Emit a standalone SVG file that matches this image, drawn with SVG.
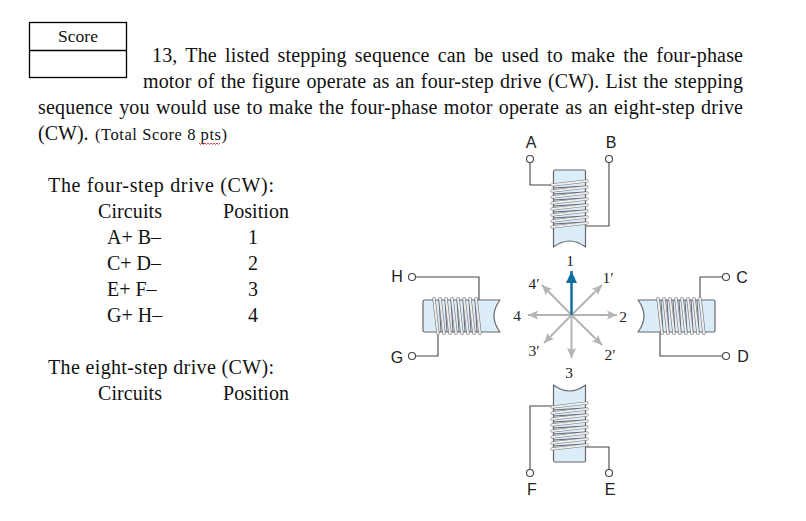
<svg xmlns="http://www.w3.org/2000/svg" xmlns:xlink="http://www.w3.org/1999/xlink" width="806" height="521" viewBox="0 0 806 521">
<style>
text{font-family:"Liberation Serif","Times New Roman",serif;fill:#111}
.t{font-size:20px}
.s{font-family:"Liberation Sans",Arial,sans-serif;font-size:16px;fill:#222}
.d{font-size:15.500px;fill:#222}
.box{fill:none;stroke:#000;stroke-width:1.300}
.wire{fill:none;stroke:#444;stroke-width:1.100}
.term{fill:#fff;stroke:#444;stroke-width:1.100}
.body{fill:#dcedfa;stroke:#666;stroke-width:1.200;stroke-linejoin:round}
.wo{fill:none;stroke:#777;stroke-width:3.200;stroke-linecap:round}
.wi{fill:none;stroke:#eee;stroke-width:2;stroke-linecap:round}
.back{fill:none;stroke:#667;stroke-width:1}
.ar{stroke:#b4b4b4;stroke-width:2;fill:none;marker-end:url(#mg)}
</style>
<defs>
<marker id="mg" markerUnits="userSpaceOnUse" markerWidth="11" markerHeight="9" refX="10" refY="4.500" orient="auto"><path d="M0 0L10 4.500L0 9L2 4.500Z" fill="#b4b4b4"/></marker>
<marker id="mb" markerUnits="userSpaceOnUse" markerWidth="13" markerHeight="11" refX="12" refY="5.500" orient="auto"><path d="M0 0L12 5.500L0 11Z" fill="#0f6e9f"/></marker>
<path id="bd" class="body" d="M-16 1.500Q-16 0-14.500 0H14.500Q16 0 16 1.500V77Q8 71 0 71Q-8 71-16 77Z"/>
<g id="wd">
<path class="back" d="M-16 18L16 16M-16 24L16 22M-16 30L16 28M-16 36L16 34M-16 42L16 40M-16 48L16 46M-16 54L16 52"/>
<g class="wo"><path d="M-17.500 15L17.500 11"/><path d="M-17.500 21L17.500 17"/><path d="M-17.500 27L17.500 23"/><path d="M-17.500 33L17.500 29"/><path d="M-17.500 39L17.500 35"/><path d="M-17.500 45L17.500 41"/><path d="M-17.500 51L17.500 47"/><path d="M-17.500 57L17.500 53"/></g>
<g class="wi"><path d="M-17.500 15L17.500 11"/><path d="M-17.500 21L17.500 17"/><path d="M-17.500 27L17.500 23"/><path d="M-17.500 33L17.500 29"/><path d="M-17.500 39L17.500 35"/><path d="M-17.500 45L17.500 41"/><path d="M-17.500 51L17.500 47"/><path d="M-17.500 57L17.500 53"/></g>
</g>
</defs>
<rect width="806" height="521" fill="#fff"/>
<g id="score">
<rect class="box" x="29.500" y="22.500" width="97" height="55"/>
<path class="box" d="M29.500 50.500H126.500"/>
<text x="78" y="42" text-anchor="middle" font-size="17.500">Score</text>
</g>
<g id="question" class="t">
<text x="152" y="62" word-spacing="3" textLength="591" lengthAdjust="spacing">13, The listed stepping sequence can be used to make the four-phase</text>
<text x="143" y="88" word-spacing="1" textLength="600" lengthAdjust="spacing">motor of the figure operate as an four-step drive (CW). List the stepping</text>
<text x="38" y="114" word-spacing="1" textLength="705" lengthAdjust="spacing">sequence you would use to make the four-phase motor operate as an eight-step drive</text>
<text x="38" y="140">(CW).</text>
<text x="95" y="140" font-size="16.500" textLength="132" lengthAdjust="spacing">(Total Score 8 pts)</text>
<path d="M199 143l1.500 1.500 1.500-1.500 1.500 1.500 1.500-1.500 1.500 1.500 1.500-1.500 1.500 1.500 1.500-1.500 1.500 1.500 1.500-1.500 1.500 1.500 1.500-1.500 1.500 1.500 1.500-1.500" fill="none" stroke="#d02020" stroke-width=".8"/>
</g>
<g id="table" class="t">
<text x="48" y="192" textLength="226" lengthAdjust="spacing">The four-step drive (CW):</text>
<text x="98" y="218" textLength="64" lengthAdjust="spacing">Circuits</text>
<text x="223" y="218" textLength="66" lengthAdjust="spacing">Position</text>
<text x="107" y="244">A+ B–</text><text x="253" y="244" text-anchor="middle">1</text>
<text x="107" y="270">C+ D–</text><text x="253" y="270" text-anchor="middle">2</text>
<text x="107" y="296">E+ F–</text><text x="253" y="296" text-anchor="middle">3</text>
<text x="107" y="322">G+ H–</text><text x="253" y="322" text-anchor="middle">4</text>
<text x="48" y="374" textLength="226" lengthAdjust="spacing">The eight-step drive (CW):</text>
<text x="98" y="400" textLength="64" lengthAdjust="spacing">Circuits</text>
<text x="223" y="400" textLength="66" lengthAdjust="spacing">Position</text>
</g>
<g id="coil-top">
<path class="wire" d="M530 163V185H553M609 163V226H586"/>
<circle class="term" cx="530" cy="159" r="3.500"/><circle class="term" cx="609" cy="159" r="3.500"/>
<use xlink:href="#bd" href="#bd" transform="translate(569.500,170)"/>
<use xlink:href="#wd" href="#wd" transform="translate(569.500,170)"/>
<text class="s" x="531" y="148" text-anchor="middle">A</text><text class="s" x="611" y="148" text-anchor="middle">B</text>
</g>
<g id="coil-left">
<path class="wire" d="M416 277H479V300M416 356H438V332"/>
<circle class="term" cx="412" cy="277" r="3.500"/><circle class="term" cx="412" cy="356" r="3.500"/>
<use xlink:href="#bd" href="#bd" transform="translate(423,316) rotate(-90)"/>
<use xlink:href="#wd" href="#wd" transform="translate(423,316) rotate(-90)"/>
<text class="s" x="397" y="282" text-anchor="middle">H</text><text class="s" x="397" y="363" text-anchor="middle">G</text>
</g>
<g id="coil-right">
<path class="wire" d="M722 277H700V300M722 356H660V332"/>
<circle class="term" cx="726" cy="277" r="3.500"/><circle class="term" cx="726" cy="356" r="3.500"/>
<use xlink:href="#bd" href="#bd" transform="translate(715,316) rotate(90)"/>
<use xlink:href="#wd" href="#wd" transform="translate(715,316) rotate(90)"/>
<text class="s" x="742" y="283" text-anchor="middle">C</text><text class="s" x="743" y="362" text-anchor="middle">D</text>
</g>
<g id="coil-bottom">
<path class="wire" d="M530 469V406H553M609 469V447H586"/>
<circle class="term" cx="530" cy="473" r="3.500"/><circle class="term" cx="609" cy="473" r="3.500"/>
<use xlink:href="#bd" href="#bd" transform="translate(569.500,462) scale(1,-1)"/>
<use xlink:href="#wd" href="#wd" transform="translate(569.500,392)"/>
<text class="s" x="532" y="495" text-anchor="middle">F</text><text class="s" x="610" y="495" text-anchor="middle">E</text>
</g>
<g id="connectors">
<path class="ar" d="M571.500 315L602 285"/>
<path class="ar" d="M571.500 315L617 315"/>
<path class="ar" d="M571.500 315L602 345"/>
<path class="ar" d="M571.500 315V358"/>
<path class="ar" d="M571.500 315L544 343"/>
<path class="ar" d="M571.500 315L528 315"/>
<path class="ar" d="M571.500 315L542 285"/>
<path d="M571.500 315V271" stroke="#0f6e9f" stroke-width="2.500" fill="none" marker-end="url(#mb)"/>
</g>
<g id="labels">
<text class="d" x="570" y="266" text-anchor="middle">1</text>
<text class="d" x="608" y="283" text-anchor="middle">1′</text>
<text class="d" x="623" y="322" text-anchor="middle">2</text>
<text class="d" x="610" y="360" text-anchor="middle">2′</text>
<text class="d" x="569" y="378" text-anchor="middle">3</text>
<text class="d" x="534" y="356" text-anchor="middle">3′</text>
<text class="d" x="517" y="321" text-anchor="middle">4</text>
<text class="d" x="534" y="289" text-anchor="middle">4′</text>
</g>
</svg>
